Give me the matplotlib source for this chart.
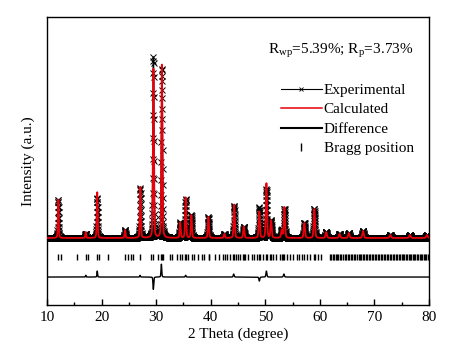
#Rietveld refinement plot: experimental, calculated, difference and Bragg positions

import matplotlib
matplotlib.use('Agg')
import matplotlib.pyplot as plt
from matplotlib.lines import Line2D
import numpy as np

#peak positions (2 theta, degree) and calculated heights (a.u., baseline = 0)
peak_pos = [12.07, 17.1, 19.2, 24.3, 27.1, 29.5, 31.05, 34.4, 35.4, 36.45, 39.57,
            42.5, 44.3, 46.05, 48.9, 50.2, 51.05, 53.0, 53.5, 57.15, 58.98,
            61.15, 63.6, 65.3, 67.9, 72.9, 76.5, 79.6]
peak_height = [22, 3.4, 26, 4.5, 29, 96, 99, 8.8, 23, 13, 12,
               2.3, 19, 6.5, 15, 31, 10, 4.5, 17.5, 8.5, 16.5,
               3.4, 2.3, 2.8, 4, 1.7, 1.7, 1.7]

#difference spikes (calc - obs, as drawn)
diff_pos = [17.1, 19.2, 27.05, 29.48, 30.95, 35.4, 44.2, 48.9, 50.2, 53.4]
diff_height = [1.0, 3.4, 1.0, -7.0, 7.4, 1.0, 1.7, -2.3, 3.4, 1.7]

#Bragg reflection positions
bragg_pos = [12.07, 12.51, 15.44, 17.09, 17.46, 19.22, 19.58, 21.23, 24.29, 24.9,
             25.34, 25.81, 27.1, 29.06, 29.48, 30.4, 30.89, 31.05, 31.31, 32.54,
             32.85, 33.77, 34.4, 34.68, 35.29, 35.45, 35.9, 36.52, 36.94, 37.73,
             38.35, 38.83, 39.6, 39.74, 40.79, 41.58, 42.31, 42.62, 43.05, 43.54,
             44.15, 44.35, 44.59, 45.07, 45.38, 45.87, 46.1, 46.29, 46.9, 47.52,
             47.94, 48.54, 48.9, 49.04, 49.64, 50.13, 50.27, 50.87, 51.05, 51.48,
             51.97, 52.7, 53.0, 53.31, 53.5, 53.92, 54.53, 55.13, 55.74, 56.22,
             56.78, 57.1, 57.59, 58.2, 58.93, 59.1, 59.7, 60.2, 61.86, 62.1,
             62.35, 62.6, 62.9, 63.15, 63.4, 63.7, 63.95, 64.3, 64.55, 64.8,
             65.1, 65.4, 65.7, 65.95, 66.2, 66.5, 66.8, 67.1, 67.35, 67.6,
             67.85, 68.1, 68.4, 68.7, 68.95, 69.2, 69.5, 69.8, 70.05, 70.3,
             70.6, 70.9, 71.15, 71.4, 71.7, 72.0, 72.25, 72.5, 72.85, 73.1,
             73.35, 73.6, 73.9, 74.15, 74.4, 74.7, 74.95, 75.2, 75.45, 75.7,
             76.0, 76.25, 76.5, 76.75, 77.0, 77.25, 77.5, 77.75, 78.0, 78.25,
             78.5, 78.75, 79.0, 79.25, 79.5, 79.75]

x_ticks = [10, 20, 30, 40, 50, 60, 70, 80]
bragg_level = -10.8
diff_level = -22.2


def profile(x, positions, heights, fwhm):
    #pseudo-Voigt sum of the given reflections
    y = np.zeros_like(x)
    for p, h in zip(positions, heights):
        w = fwhm + 0.002 * (p - 10)
        g = np.exp(-4 * np.log(2) * ((x - p) / w) ** 2)
        l = 1 / (1 + 4 * ((x - p) / w) ** 2)
        y += h * (0.7 * g + 0.3 * l)
    return y


plt.rcParams['font.family'] = ['Liberation Serif']
plt.rcParams['mathtext.fontset'] = 'custom'
plt.rcParams['mathtext.rm'] = 'Liberation Serif'
plt.rcParams['font.size'] = 11

two_theta = np.arange(10, 80.001, 0.02)
calc = profile(two_theta, peak_pos, peak_height, 0.18)
diff = profile(two_theta, diff_pos, diff_height, 0.12)
obs = calc - diff

fig = plt.figure(figsize=(4.74, 3.58), dpi=100)
ax = fig.add_axes([0.0992, 0.148, 0.806, 0.8045])

ax.plot(two_theta, obs, color='black', lw=1.0, marker='x', markersize=4,
        markeredgewidth=0.7, zorder=2)
ax.plot(two_theta, calc, color='#e8000b', lw=1.3, zorder=3)
ax.plot(two_theta, diff + diff_level, color='black', lw=1.0, zorder=2)
ax.plot(bragg_pos, [bragg_level] * len(bragg_pos), linestyle='None', marker='|',
        markersize=4.5, markeredgewidth=1.0, color='black')

ax.set_xlim(10, 80)
ax.set_ylim(-38.1, 125.6)
ax.set_xticks(x_ticks)
ax.set_xticks([15, 25, 35, 45, 55, 65, 75], minor=True)
ax.set_yticks([])
ax.tick_params(axis='x', which='major', direction='in', length=4, width=1, pad=4)
ax.tick_params(axis='x', which='minor', direction='in', length=2.5, width=1)
for s in ax.spines.values():
    s.set_linewidth(1.0)

ax.set_xlabel('2 Theta (degree)', labelpad=3)
ax.set_ylabel('Intensity (a.u.)', labelpad=9)

ax.text(0.578, 0.882, r'R$_{\mathrm{wp}}$=5.39%; R$_{\mathrm{p}}$=3.73%',
        transform=ax.transAxes, va='center', ha='left')

handles = [Line2D([], [], color='black', lw=0.8, marker='x', markersize=3.5, markeredgewidth=0.6, markevery=[1]),
           Line2D([], [], color='#e8000b', lw=1.1),
           Line2D([], [], color='black', lw=1.5),
           Line2D([], [], color='black', linestyle='None', marker='|', markersize=6)]
labels = ['Experimental', 'Calculated', 'Difference', 'Bragg position']
ax.legend(handles, labels, loc='upper left', bbox_to_anchor=(0.612, 0.77),
          frameon=False, borderpad=0, borderaxespad=0, handlelength=2.7,
          handletextpad=0.1, labelspacing=0.38)

plt.savefig('out.png', dpi=100)
